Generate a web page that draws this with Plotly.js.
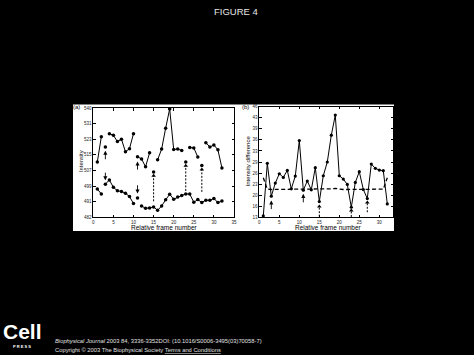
<!DOCTYPE html>
<html>
<head>
<meta charset="utf-8">
<script src="https://cdn.plot.ly/plotly-3.0.1.min.js"></script>
<style>html,body{margin:0;padding:0;background:#000;}#chart{width:474px;height:355px;}</style>
</head>
<body>
<div id="chart"></div>
<script>
// ---- data ----
const framesA = [1,2,3,4,5,6,7,8,9,10,11,12,13,14,15,16,17,18,19,20,21,22,23,24,25,26,27,28,29,30,31,32];
const upperA = [511.3,524.8,519.3,526.4,525.5,522.2,523.4,516.8,518.4,526.4,514.1,513.0,508.8,516.2,506.0,512.5,518.2,529.3,539.5,518.0,518.2,517.5,511.4,519.0,518.8,514.0,509.5,521.6,519.3,520.4,517.8,508.2];
const lowerA = [497.0,494.4,499.6,501.8,497.9,496.1,495.7,494.8,493.0,489.3,492.2,488.0,486.8,487.0,487.5,485.7,488.0,491.3,494.2,491.6,492.8,493.6,494.4,494.3,490.0,491.4,489.9,491.1,491.0,492.0,489.8,490.6];
const upperBreaksA = [2,3,10,14,15,22,23,26,27];
const lowerBreaksA = [2,10,11];

const solidArrowFramesA = [3,3,11,11];
const solidArrowTailsA = [512.0,506.5,506.5,499.8];
const solidArrowHeadsA = [517.3,501.6,511.6,494.6];
const dashedArrowFramesA = [15,23,27];
const dashedArrowTailsA = [490.5,496.0,495.5];
const dashedArrowHeadsA = [504.0,509.3,507.4];

const framesB = [1,2,3,4,5,6,7,8,9,10,11,12,13,14,15,16,17,18,19,20,21,22,23,24,25,26,27,28,29,30,31,32];
const diffB = [13.4,29.1,19.3,23.2,26.0,24.9,27.0,21.5,25.3,35.9,21.1,23.8,21.2,27.8,17.7,25.4,29.5,37.5,43.5,25.4,24.4,22.8,16.0,23.4,26.6,21.3,18.6,28.9,27.6,27.1,26.9,17.0];
const threshB = [24.8,21.4,21.3,21.3,21.3,21.3,21.3,21.3,21.3,21.3,21.3,21.3,21.3,21.3,21.3,21.3,21.4,21.5,21.6,21.4,21.3,21.3,21.3,21.3,21.3,21.3,21.3,21.3,21.3,21.3,21.4,24.8];

const solidArrowFramesB = [3,11];
const solidArrowTailsB = [15.0,17.0];
const solidArrowHeadsB = [18.0,20.0];
const dashedArrowFramesB = [15,23,27];
const dashedArrowTailsB = [13.2,13.1,14.5];
const dashedArrowHeadsB = [16.2,15.0,17.4];

const xTicksA = [0,5,10,15,20,25,30,35];
const yTickValsA = [482,490.3,498.6,506.9,515.1,523.4,531.7,540];
const yTickTextA = ['482','491','499','507','515','523','531','540'];
const xTicksB = [0,5,10,15,20,25,30];
const yTickValsB = [13,16.3,19.6,22.9,26.2,29.5,32.8,36.1,39.4,42.7,46];
const yTickTextB = ['13','16','20','23','26','29','33','36','39','43','46'];

// ---- helpers ----
const W = 474, H = 355;
const px = v => v / W;
const py = v => 1 - v / H;
const FONT = 'Liberation Sans, Arial, sans-serif';

function withBreaks(xs, ys, breaks) {
  const X = [], Y = [];
  xs.forEach((x, i) => {
    X.push(x); Y.push(ys[i]);
    if (breaks.includes(x)) { X.push(x + 0.5); Y.push(null); }
  });
  return {X, Y};
}
function dashedSegs(fr, tails, heads) {
  const X = [], Y = [];
  fr.forEach((f, i) => { X.push(f, f, null); Y.push(tails[i], heads[i], null); });
  return {X, Y};
}

const upA = withBreaks(framesA, upperA, upperBreaksA);
const loA = withBreaks(framesA, lowerA, lowerBreaksA);
const dA = dashedSegs(dashedArrowFramesA, dashedArrowTailsA, dashedArrowHeadsA);
const dB = dashedSegs(dashedArrowFramesB, dashedArrowTailsB, dashedArrowHeadsB);

const mk = {color: '#000', size: 3.5};
const ln = {color: '#000', width: 1};

const traces = [
  {x: upA.X, y: upA.Y, mode: 'lines+markers', line: ln, marker: mk, xaxis: 'x', yaxis: 'y', connectgaps: false, hoverinfo: 'none'},
  {x: loA.X, y: loA.Y, mode: 'lines+markers', line: ln, marker: mk, xaxis: 'x', yaxis: 'y', connectgaps: false, hoverinfo: 'none'},
  {x: dA.X, y: dA.Y, mode: 'lines', line: {color: '#000', width: 1, dash: '2px,1.5px'}, xaxis: 'x', yaxis: 'y', hoverinfo: 'none'},
  {x: dashedArrowFramesA, y: dashedArrowHeadsA, mode: 'markers', marker: {symbol: 'triangle-up', size: 4, color: '#000'}, xaxis: 'x', yaxis: 'y', hoverinfo: 'none'},
  {x: framesB, y: threshB, mode: 'lines', line: {color: '#000', width: 1.3, dash: '4px,2.5px'}, xaxis: 'x2', yaxis: 'y2', hoverinfo: 'none'},
  {x: framesB, y: diffB, mode: 'lines+markers', line: ln, marker: {color: '#000', size: 3.2}, xaxis: 'x2', yaxis: 'y2', hoverinfo: 'none'},
  {x: dB.X, y: dB.Y, mode: 'lines', line: {color: '#000', width: 1, dash: '2px,1.5px'}, xaxis: 'x2', yaxis: 'y2', hoverinfo: 'none'},
  {x: dashedArrowFramesB, y: dashedArrowHeadsB, mode: 'markers', marker: {symbol: 'triangle-up', size: 4, color: '#000'}, xaxis: 'x2', yaxis: 'y2', hoverinfo: 'none'}
];

const annotations = [];
function arrows(fr, tails, heads, xr, yr) {
  fr.forEach((f, i) => annotations.push({
    x: f, y: heads[i], ax: f, ay: tails[i], xref: xr, yref: yr, axref: xr, ayref: yr,
    text: '', showarrow: true, arrowhead: 2, arrowsize: 0.9, arrowwidth: 0.9, arrowcolor: '#000'
  }));
}
arrows(solidArrowFramesA, solidArrowTailsA, solidArrowHeadsA, 'x', 'y');
arrows(solidArrowFramesB, solidArrowTailsB, solidArrowHeadsB, 'x2', 'y2');

function txt(text, x, y, size, opts) {
  annotations.push(Object.assign({
    text: text, x: px(x), y: py(y), xref: 'paper', yref: 'paper', showarrow: false,
    xanchor: 'center', yanchor: 'middle', font: {family: FONT, size: size, color: '#000'}
  }, opts || {}));
}
txt('FIGURE 4', 236, 12, 9.5, {font: {family: FONT, size: 9.5, color: '#e6e6e6'}});
txt('(a)', 76.5, 107, 6, {font: {family: FONT, size: 6, color: '#000'}});
txt('(b)', 245, 106.5, 6, {font: {family: FONT, size: 6, color: '#000'}});
txt('Intensity', 81, 161, 5.8, {textangle: -90});
txt('Intensity difference', 247.5, 161, 6, {textangle: -90});
txt('Relative frame number', 164, 227.4, 6.5);
txt('Relative frame number', 328, 227.4, 6.5);
txt('<b>Cell</b>', 22, 331, 21, {font: {family: 'Liberation Sans Narrow, Liberation Sans, Arial', size: 21, color: '#fff'}});
txt('<b>P R E S S</b>', 22, 346.5, 4, {font: {family: FONT, size: 4, color: '#fff'}});
txt('<i>Biophysical Journal</i> 2003 84, 3336-3352DOI: (10.1016/S0006-3495(03)70058-7)', 53, 340.5, 5.8,
    {xanchor: 'left', font: {family: FONT, size: 5.8, color: '#e0e0e0'}});
txt('Copyright © 2003 The Biophysical Society <u>Terms and Conditions</u>', 53, 349.5, 5.8,
    {xanchor: 'left', font: {family: FONT, size: 5.8, color: '#e0e0e0'}});

const axBase = {
  showline: true, linecolor: '#000', linewidth: 1, mirror: 'ticks', ticks: 'inside', ticklen: 2.5,
  tickcolor: '#000', tickwidth: 1, showgrid: false, zeroline: false,
  tickfont: {family: FONT, size: 4.5, color: '#222'}, fixedrange: true
};

const layout = {
  width: W, height: H, margin: {l: 0, r: 0, t: 0, b: 0},
  paper_bgcolor: '#000', plot_bgcolor: '#fff', showlegend: false,
  xaxis: Object.assign({}, axBase, {domain: [px(93.3), px(234)], range: [0, 35], tickmode: 'array', tickvals: xTicksA, anchor: 'y'}),
  yaxis: Object.assign({}, axBase, {domain: [py(217.3), py(108)], range: [482, 540], tickmode: 'array', tickvals: yTickValsA, ticktext: yTickTextA, anchor: 'x'}),
  xaxis2: Object.assign({}, axBase, {domain: [px(259.3), px(393.3)], range: [0, 33.5], tickmode: 'array', tickvals: xTicksB, anchor: 'y2'}),
  yaxis2: Object.assign({}, axBase, {domain: [py(217.3), py(106.7)], range: [13, 46], tickmode: 'array', tickvals: yTickValsB, ticktext: yTickTextB, anchor: 'x2'}),
  shapes: [
    {type: 'rect', xref: 'paper', yref: 'paper', x0: px(73), x1: px(394), y0: py(231), y1: py(104.5), fillcolor: '#fff', line: {width: 0}, layer: 'below'}
  ],
  annotations: annotations
};

Plotly.newPlot('chart', traces, layout, {staticPlot: true, displayModeBar: false});
</script>
</body>
</html>
